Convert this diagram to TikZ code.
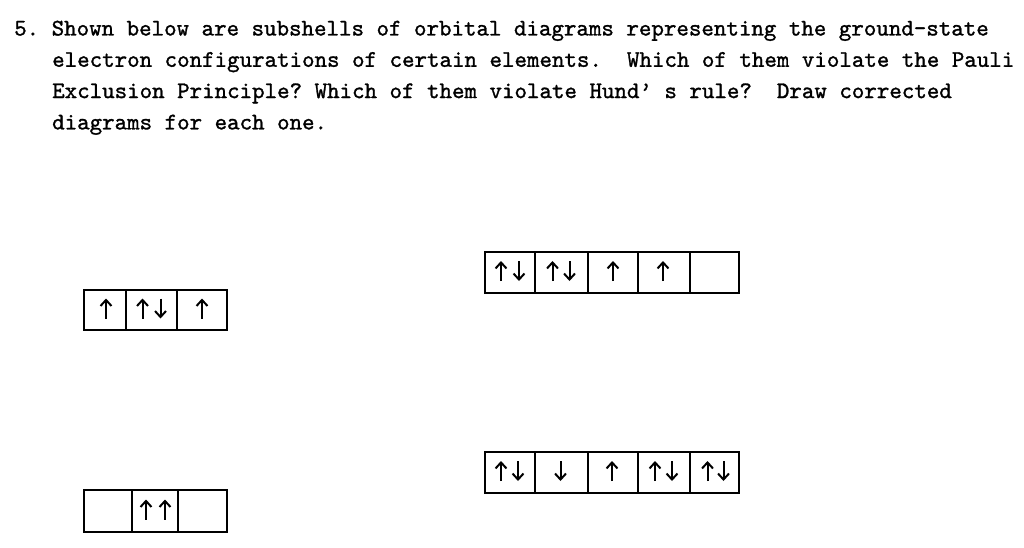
\documentclass[tikz,border=0pt]{standalone}
\usepackage{fontspec}
\newfontfamily\questionfont{lmmono10-regular.otf}[FakeBold=1.2]
\usetikzlibrary{arrows.meta,positioning}
\newcommand{\spinup}[2]{\draw[Spin,-{Straight Barb[length=6pt,width=11pt]}] ([xshift=#2pt,yshift=-8.5pt]#1.center) -- ++(0,-20);}
\newcommand{\spindown}[2]{\draw[Spin,-{Straight Barb[length=6pt,width=11pt]}] ([xshift=#2pt,yshift=11.5pt]#1.center) -- ++(0,20);}
\begin{document}
\begin{tikzpicture}[
x=1pt,y=-1pt,
Question/.style={anchor=base west,inner sep=0pt,font=\questionfont\fontsize{23.8}{31.3}\selectfont\frenchspacing},
Cell/.style={draw=black,line width=1.2pt,inner sep=0pt,outer sep=0pt},
Frame/.style={draw=black,line width=2.2pt},
Spin/.style={black,line width=2pt}
]
\useasboundingbox (0,0) rectangle (1024,548);

% question text
\node[Question] (q1) at (14,35.5) {5. Shown below are subshells of orbital diagrams representing the ground-state};
\node[Question] (q2) at (52,66.8) {electron configurations of certain elements.\ \ Which of them violate the Pauli};
\node[Question] (q3) at (52,98.1) {Exclusion Principle? Which of them violate Hund’ s rule?\ \ Draw corrected};
\node[Question] (q4) at (52,129.4) {diagrams for each one.};

% subshell 1 (left, top)
\node[Cell,minimum width=42,minimum height=40] (a1) at (105,310) {};
\node[Cell,minimum width=51,minimum height=40,right=0pt of a1] (a2) {};
\node[Cell,minimum width=50,minimum height=40,right=0pt of a2] (a3) {};
\draw[Frame] (a1.north west) rectangle (a3.south east);
\spinup{a1}{1}
\spinup{a2}{-9}
\spindown{a2}{9}
\spinup{a3}{0}

% subshell 2 (right, top)
\node[Cell,minimum width=50,minimum height=41] (b1) at (510,272.5) {};
\node[Cell,minimum width=53,minimum height=41,right=0pt of b1] (b2) {};
\node[Cell,minimum width=50,minimum height=41,right=0pt of b2] (b3) {};
\node[Cell,minimum width=52,minimum height=41,right=0pt of b3] (b4) {};
\node[Cell,minimum width=49,minimum height=41,right=0pt of b4] (b5) {};
\draw[Frame] (b1.north west) rectangle (b5.south east);
\spinup{b1}{-9}
\spindown{b1}{9}
\spinup{b2}{-9}
\spindown{b2}{8}
\spinup{b3}{0}
\spinup{b4}{-1}

% subshell 3 (right, bottom)
\node[Cell,minimum width=50,minimum height=41] (c1) at (510,472.5) {};
\node[Cell,minimum width=53,minimum height=41,right=0pt of c1] (c2) {};
\node[Cell,minimum width=50,minimum height=41,right=0pt of c2] (c3) {};
\node[Cell,minimum width=52,minimum height=41,right=0pt of c3] (c4) {};
\node[Cell,minimum width=49,minimum height=41,right=0pt of c4] (c5) {};
\draw[Frame] (c1.north west) rectangle (c5.south east);
\spinup{c1}{-9}
\spindown{c1}{8}
\spindown{c2}{-1}
\spinup{c3}{-1}
\spinup{c4}{-9}
\spindown{c4}{8}
\spinup{c5}{-7}
\spindown{c5}{9}

% subshell 4 (left, bottom)
\node[Cell,minimum width=48,minimum height=42] (d1) at (108,511) {};
\node[Cell,minimum width=46,minimum height=42,right=0pt of d1] (d2) {};
\node[Cell,minimum width=49,minimum height=42,right=0pt of d2] (d3) {};
\draw[Frame] (d1.north west) rectangle (d3.south east);
\spinup{d2}{-9}
\spinup{d2}{10}

\end{tikzpicture}
\end{document}
